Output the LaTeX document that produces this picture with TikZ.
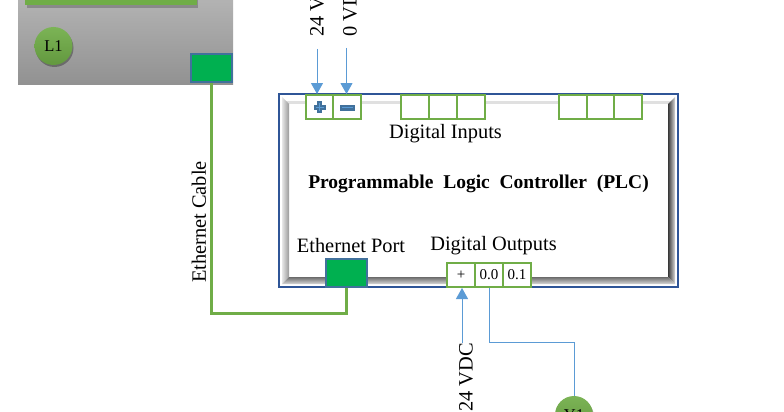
\documentclass[tikz,border=0pt]{standalone}
\usepackage{fontspec}
\setmainfont{Liberation Serif}
\usetikzlibrary{arrows.meta,shadows,calc}
\definecolor{cellgreen}{HTML}{70AD47}
\definecolor{linkblue}{HTML}{5B9BD5}
\definecolor{portgreen}{HTML}{00B050}
\definecolor{portblue}{HTML}{41719C}
\definecolor{frameblue}{HTML}{2F5597}
\tikzset{
  cell/.style={draw=cellgreen,fill=white,line width=2pt,minimum width=28pt,minimum height=24pt,inner sep=0pt,font=\fontsize{15}{15}\selectfont},
  port/.style={draw=portblue,fill=portgreen,line width=1.6pt,minimum width=41pt,minimum height=28pt,inner sep=0pt},
  lamp/.style={circle,minimum size=38pt,inner sep=0pt,top color=cellgreen!92!white,bottom color=cellgreen!88!black,drop shadow={shadow xshift=1pt,shadow yshift=-2pt,fill=black,opacity=.3},font=\fontsize{16.5}{16.5}\selectfont},
  txt/.style={inner sep=0pt,font=\fontsize{20.4}{20.4}\selectfont},
  wire/.style={draw=linkblue,line width=1pt},
  feed/.style={wire,-{Triangle[length=11pt,width=12pt]}},
  cable/.style={draw=cellgreen,line width=3pt}
}
\begin{document}
\begin{tikzpicture}[x=1pt,y=-1pt]
\useasboundingbox (0,0) rectangle (784,412);
\clip (0,0) rectangle (784,412);
\fill[white] (0,0) rectangle (784,412);
% HMI panel
\path[top color=black!30,bottom color=black!43] (18,0) rectangle (233,84.5);
\fill[black,opacity=.22] (27,0) rectangle (198,8.5);
\fill[cellgreen] (25,0) rectangle (197,5.5);
\node[lamp] (l1) at (53.5,46) {L1};
\node[port] (hmiport) at (211.5,68) {};
% PLC frame
\fill[white] (279,94) rectangle (678,287);
\fill[black!12] (286,101) rectangle (671,104);
\path[left color=black!10,right color=black!40] (282,97) -- (289,104) -- (289,277) -- (282,284) -- cycle;
\path[left color=black!78,right color=black!15] (668,104) -- (675,97) -- (675,284) -- (668,277) -- cycle;
\path[top color=black!58,bottom color=black!15] (289,277) -- (668,277) -- (675,284) -- (282,284) -- cycle;
\draw[frameblue,line width=1.3pt] (279,94) rectangle (678,287);
% Cells
\node[cell] (a1) at (319.5,107) {};
\node[cell] (a2) at (347,107) {};
\node[cell] (b1) at (415,107) {};
\node[cell] (b2) at (443,107) {};
\node[cell] (b3) at (471,107) {};
\node[cell] (c1) at (573,107) {};
\node[cell] (c2) at (600.5,107) {};
\node[cell] (c3) at (628,107) {};
\node[cell] (d1) at (461,275) {+};
\node[cell] (d2) at (489,275) {0.0};
\node[cell] (d3) at (517,275) {0.1};
\node[port] (plcport) at (346.5,273) {};
% Icons
\fill[portblue] (a1.center) ++(-6,-1.8) rectangle ++(12,4.6);
\fill[portblue] (a1.center) ++(-2.3,-6) rectangle ++(4.6,12);
\draw[linkblue,line width=.7pt] (a1.center) ++(-4,.5) -- ++(8,0);
\draw[linkblue,line width=.7pt] (a1.center) ++(0,-4) -- ++(0,8);
\fill[portblue] (a2.center) ++(-7.5,-2.5) rectangle ++(15,6);
\draw[linkblue,line width=1pt] (a2.center) ++(-5.5,.5) -- ++(11,0);
% Text
\node[txt] (lin) at (445.5,134) {Digital Inputs};
\node[txt,font=\fontsize{19.5}{19.5}\selectfont\bfseries] (title) at (478.5,184) {Programmable\ \ Logic\ \ Controller\ \ (PLC)};
\node[txt] (lep) at (351,245.5) {Ethernet Port};
\node[txt] (lout) at (493.5,246) {Digital Outputs};
\node[txt,rotate=90,anchor=west] (v24a) at (317,37) {24 VDC};
\node[txt,rotate=90,anchor=west] (v0) at (350,37) {0 VDC};
\node[txt,rotate=90,anchor=west] (v24b) at (466,412) {24 VDC};
\node[txt,rotate=90] (lcable) at (199,222) {Ethernet Cable};
\node[lamp] (y1) at (574,415) {Y1};
% Connectors
\coordinate (fa) at (317,49);
\coordinate (fb) at (346.5,48);
\coordinate (fc) at (462,343);
\draw[feed] (fa) -- (fa |- a1.north);
\draw[feed] (fb) -- (fb |- a2.north);
\draw[feed] (fc) -- (fc |- d1.south);
\draw[wire] (d2.south) |- (y1.north |- 0,342) -- (y1.north);
\draw[cable] (hmiport.south) -- (211.5,313) -| (plcport.south);
\end{tikzpicture}
\end{document}
